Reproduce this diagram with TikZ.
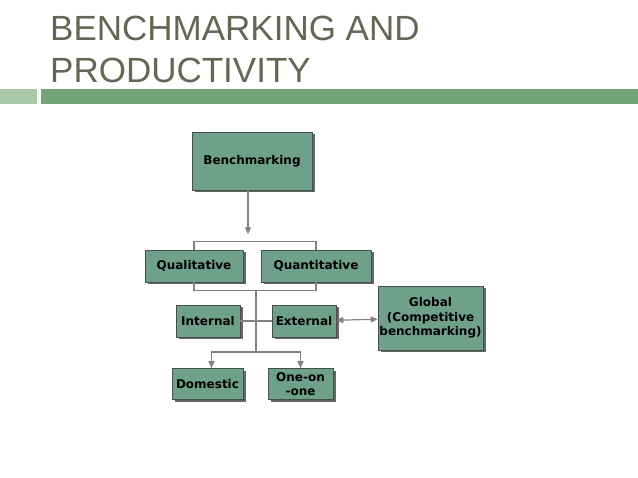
\documentclass[tikz,border=0pt]{standalone}
\usepackage{fontspec}
\setmainfont{Liberation Sans}
\newfontfamily\boxfont{DejaVu Sans}
\usetikzlibrary{arrows.meta,shadows}
\definecolor{titlegray}{RGB}{102,102,84}
\definecolor{barlight}{RGB}{168,200,168}
\definecolor{bardark}{RGB}{114,163,118}
\definecolor{boxfill}{RGB}{110,160,140}
\definecolor{boxline}{RGB}{70,80,75}
\definecolor{linkgray}{RGB}{130,130,130}
\tikzset{
  bmbox/.style={draw=boxline,line width=0.6pt,fill=boxfill,align=center,
    inner sep=1pt,font=\boxfont\bfseries\fontsize{12}{14.5}\selectfont,
    drop shadow={shadow xshift=2.5pt,shadow yshift=-2.5pt,fill=black,opacity=0.6}},
  titletext/.style={anchor=base west,text=titlegray,inner sep=0pt,
    font=\fontsize{35}{43}\selectfont},
  link/.style={draw=linkgray,line width=1.2pt},
  tip/.style={-{Triangle[width=6pt,length=7pt]}}
}

\begin{document}
\begin{tikzpicture}[x=1pt,y=1pt]
   \useasboundingbox (0,0) rectangle (638,-478);
   % title and bars
   \node (title1) [titletext] at (50,-41) {BENCHMARKING AND};
   \node (title2) [titletext] at (50,-83) {PRODUCTIVITY};
   \fill [barlight] (0,-89) rectangle (37,-104);
   \fill [bardark] (41,-89) rectangle (638,-104);
   % boxes
   \node (bench) [bmbox,minimum width=120,minimum height=58] at (252,-161) {Benchmarking};
   \node (qual) [bmbox,minimum width=98,minimum height=32] at (194,-266) {Qualitative};
   \node (quant) [bmbox,minimum width=110,minimum height=32] at (316,-266) {Quantitative};
   \node (int) [bmbox,minimum width=64,minimum height=32] at (208,-321) {Internal};
   \node (ext) [bmbox,minimum width=64,minimum height=32] at (304,-321) {External};
   \node (glob) [bmbox,minimum width=105,minimum height=64] at (430.5,-318)
     {Global\\(Competitive\\benchmarking)};
   \node (dom) [bmbox,minimum width=71,minimum height=31] at (207.5,-384) {Domestic};
   \node (one) [bmbox,minimum width=65,minimum height=31] at (300.5,-384) {One-on\\-one};
   % connectors
   \coordinate (hubtop) at (256,-290);
   \coordinate (hub) at (256,-352);
   \draw [link,tip] ([xshift=-4pt]bench.south) -- ++(0,-44);
   \draw [link] (qual.north) -- ++(0,8) -| (quant.north);
   \draw [link] (qual.south) -- ++(0,-8) -| (quant.south);
   \draw [link] (hubtop) -- (hub);
   \draw [link] (int) -- (ext);
   \draw [link,{Triangle[width=6pt,length=7pt]}-{Triangle[width=6pt,length=7pt]}] (ext) -- (glob);
   \draw [link,tip] (hub) -| ([xshift=4pt]dom.north);
   \draw [link,tip] (hub) -| (one.north);
\end{tikzpicture}
\end{document}
